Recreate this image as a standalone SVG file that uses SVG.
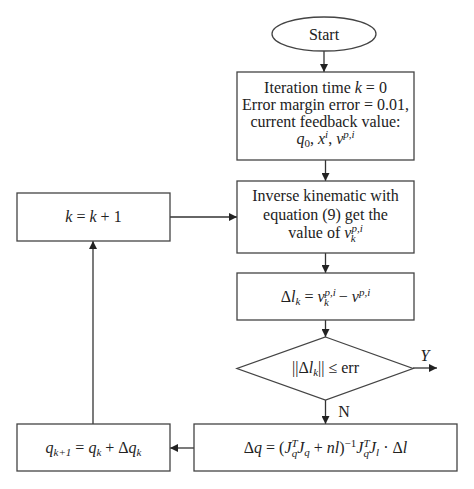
<svg xmlns="http://www.w3.org/2000/svg" width="474" height="489" viewBox="0 0 474 489">
<defs>
<marker id="ah" viewBox="0 0 10 10" refX="10" refY="5" markerWidth="8" markerHeight="8" markerUnits="userSpaceOnUse" orient="auto">
<path d="M0,0 L10,5 L0,10 z" fill="#222"/>
</marker>
<style>
.box{fill:#fff;stroke:#444;stroke-width:1.3}
.ln{fill:none;stroke:#333;stroke-width:1.3;marker-end:url(#ah)}
text{font-family:"Liberation Serif","Times New Roman",serif;font-size:16px;fill:#222;text-anchor:middle}
.i{font-style:italic}
.s{font-size:11px}
</style>
</defs>
<rect width="474" height="489" fill="#fff"/>
<g id="connectors">
<line class="ln" x1="324" y1="51" x2="324" y2="72"/>
<line class="ln" x1="325.5" y1="160" x2="325.5" y2="181"/>
<line class="ln" x1="170" y1="217" x2="237" y2="217"/>
<line class="ln" x1="325.5" y1="253" x2="325.5" y2="273"/>
<line class="ln" x1="325.5" y1="320" x2="325.5" y2="337"/>
<line class="ln" x1="413" y1="368" x2="437" y2="368"/>
<line class="ln" x1="325.5" y1="400" x2="325.5" y2="424"/>
<line class="ln" x1="194" y1="448" x2="170" y2="448"/>
<line class="ln" x1="93" y1="424" x2="93" y2="241"/>
<text x="425" y="361" class="i">Y</text>
<text x="344" y="417">N</text>
</g>
<g id="start">
<ellipse cx="324" cy="34" rx="52" ry="17" class="box"/>
<text x="324" y="39.5">Start</text>
</g>
<g id="init">
<rect x="237" y="72" width="177" height="88" class="box"/>
<text x="325.5" y="93">Iteration time <tspan class="i">k</tspan> = 0</text>
<text x="325.5" y="110">Error margin error = 0.01,</text>
<text x="325.5" y="127">current feedback value:</text>
<text x="325.5" y="144"><tspan class="i">q</tspan><tspan class="s" dy="3">0</tspan><tspan dy="-3">, </tspan><tspan class="i">x</tspan><tspan class="s i" dy="-6">i</tspan><tspan dy="6">, </tspan><tspan class="i">v</tspan><tspan class="s i" dy="-6">p,i</tspan></text>
</g>
<g id="inverse">
<rect x="237" y="181" width="177" height="72" class="box"/>
<text x="325.5" y="201">Inverse kinematic with</text>
<text x="325.5" y="219.5">equation (9) get the</text>
<text x="325.5" y="238">value of <tspan class="i">v</tspan><tspan class="s i" dy="-6">p,i</tspan><tspan class="s i" dx="-12" dy="10">k</tspan><tspan dx="6" dy="-4"> </tspan></text>
</g>
<g id="delta-l">
<rect x="237" y="273" width="177" height="47" class="box"/>
<text x="325.5" y="302">Δ<tspan class="i">l</tspan><tspan class="s i" dy="3">k</tspan><tspan dy="-3"> = </tspan><tspan class="i">v</tspan><tspan class="s i" dy="-6">p,i</tspan><tspan class="s i" dx="-12" dy="10">k</tspan><tspan dx="6" dy="-4"> − </tspan><tspan class="i">v</tspan><tspan class="s i" dy="-6">p,i</tspan></text>
</g>
<g id="decision">
<polygon points="325.5,337 413,368.5 325.5,400 237,368.5" class="box"/>
<text x="325.5" y="373">||Δ<tspan class="i">l</tspan><tspan class="s i" dy="3">k</tspan><tspan dy="-3">|| ≤ err</tspan></text>
</g>
<g id="delta-q">
<rect x="194" y="424" width="263" height="47" class="box"/>
<text x="325.5" y="453">Δ<tspan class="i">q</tspan> = (<tspan class="i">J</tspan><tspan class="s i" dy="-6">T</tspan><tspan class="s i" dx="-6" dy="10">q</tspan><tspan class="i" dy="-4">J</tspan><tspan class="s i" dy="3">q</tspan><tspan dy="-3"> + </tspan><tspan class="i">nl</tspan>)<tspan class="s" dy="-6">−1</tspan><tspan class="i" dy="6">J</tspan><tspan class="s i" dy="-6">T</tspan><tspan class="s i" dx="-6" dy="10">q</tspan><tspan class="i" dy="-4">J</tspan><tspan class="s i" dy="3">l</tspan><tspan dy="-3"> · Δ</tspan><tspan class="i">l</tspan></text>
</g>
<g id="update-q">
<rect x="17" y="424" width="153" height="47" class="box"/>
<text x="93.5" y="453"><tspan class="i">q</tspan><tspan class="s i" dy="3">k+1</tspan><tspan dy="-3"> = </tspan><tspan class="i">q</tspan><tspan class="s i" dy="3">k</tspan><tspan dy="-3"> + Δ</tspan><tspan class="i">q</tspan><tspan class="s i" dy="3">k</tspan></text>
</g>
<g id="increment">
<rect x="17" y="193" width="153" height="48" class="box"/>
<text x="93.5" y="222"><tspan class="i">k</tspan> = <tspan class="i">k</tspan> + 1</text>
</g>
</svg>
